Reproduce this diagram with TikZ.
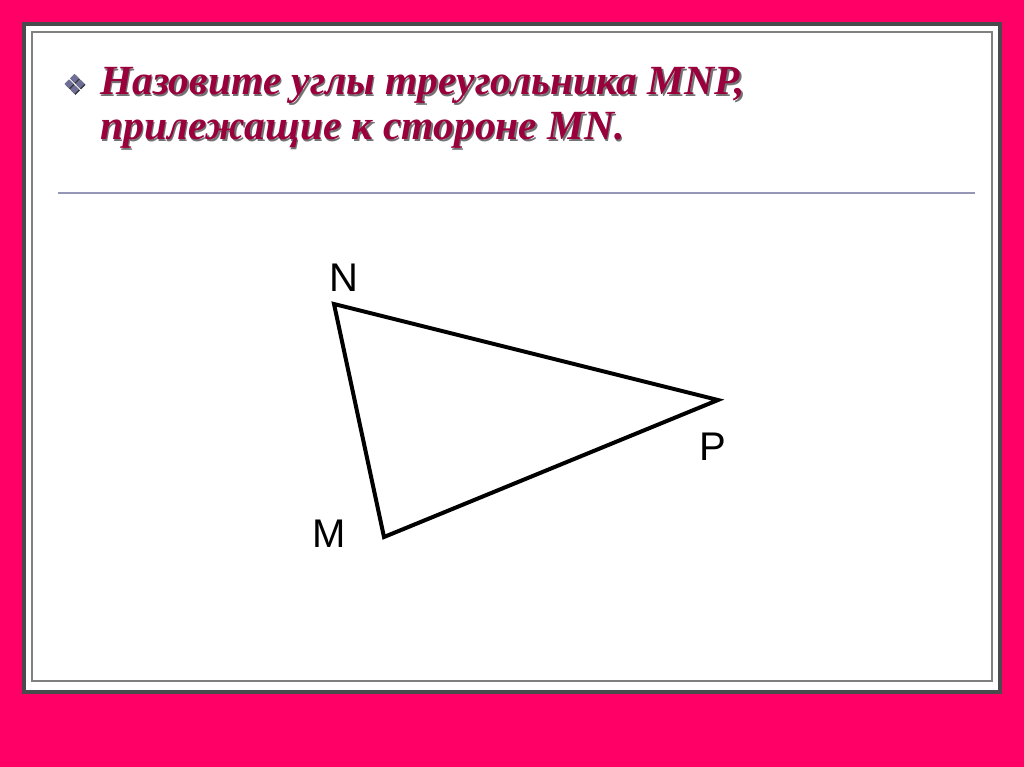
\documentclass[tikz,border=0pt]{standalone}
\usepackage{fontspec}
\setmainfont{Liberation Serif}
\newfontfamily\labelfont{Liberation Sans}
\definecolor{fon}{RGB}{255,0,102}
\definecolor{ramka}{RGB}{72,76,76}
\definecolor{zagolovok}{RGB}{153,0,60}
\definecolor{liniya}{RGB}{150,150,185}
\definecolor{marker}{RGB}{110,110,150}
\begin{document}
\begin{tikzpicture}[x=1pt,y=-1pt, line join=miter, line cap=butt,
	zag/.style={anchor=base west, inner sep=0pt, font=\fontsize{41.5}{45}\selectfont\bfseries\itshape, text=zagolovok},
	ten/.style={anchor=base west, inner sep=0pt, font=\fontsize{41.5}{45}\selectfont\bfseries\itshape, text=black!55},
	bukva/.style={anchor=base, inner sep=0pt, font=\labelfont\fontsize{40}{40}\selectfont}]
	\useasboundingbox (0,0) rectangle (1024,767);
	\fill[fon] (0,0) rectangle (1024,767);
	% slide frame
	\fill[ramka] (22,22) rectangle (1002,694);
	\fill[white] (26,26) rectangle (998,690);
	\draw[gray, line width=1.2pt] (32,32) rectangle (992,681);
	% bullet
	\foreach \dx/\dy in {0/-5.5,5.5/0,0/5.5,-5.5/0}
		{\fill[black!80] (75.5+\dx,85+\dy) +(0,-4.5) -- +(4.5,0) -- +(0,4.5) -- +(-4.5,0) -- cycle;
		 \fill[marker] (74.5+\dx,84+\dy) +(0,-4.5) -- +(4.5,0) -- +(0,4.5) -- +(-4.5,0) -- cycle;}
	% title
	\node[ten] at (101.5,96.5) {Назовите углы треугольника MNP,};
	\node[ten] at (101.5,141.5) {прилежащие к стороне MN.};
	\node[zag] (t1) at (100,95) {Назовите углы треугольника MNP,};
	\node[zag] (t2) at (100,140) {прилежащие к стороне MN.};
	\draw[liniya, line width=1.2pt] (58,193) -- (975,193);
	% triangle
	\path 
	(384,537) coordinate (M)
	(334,304) coordinate (N)
	(718,400) coordinate (P)
	;
	\draw[line width=4pt] (M)--(N)--(P)--cycle;
	\node[bukva] (lN) at (344,291) {N};
	\node[bukva] (lP) at (712.5,460) {P};
	\node[bukva] (lM) at (329.5,547) {M};
\end{tikzpicture}
\end{document}
